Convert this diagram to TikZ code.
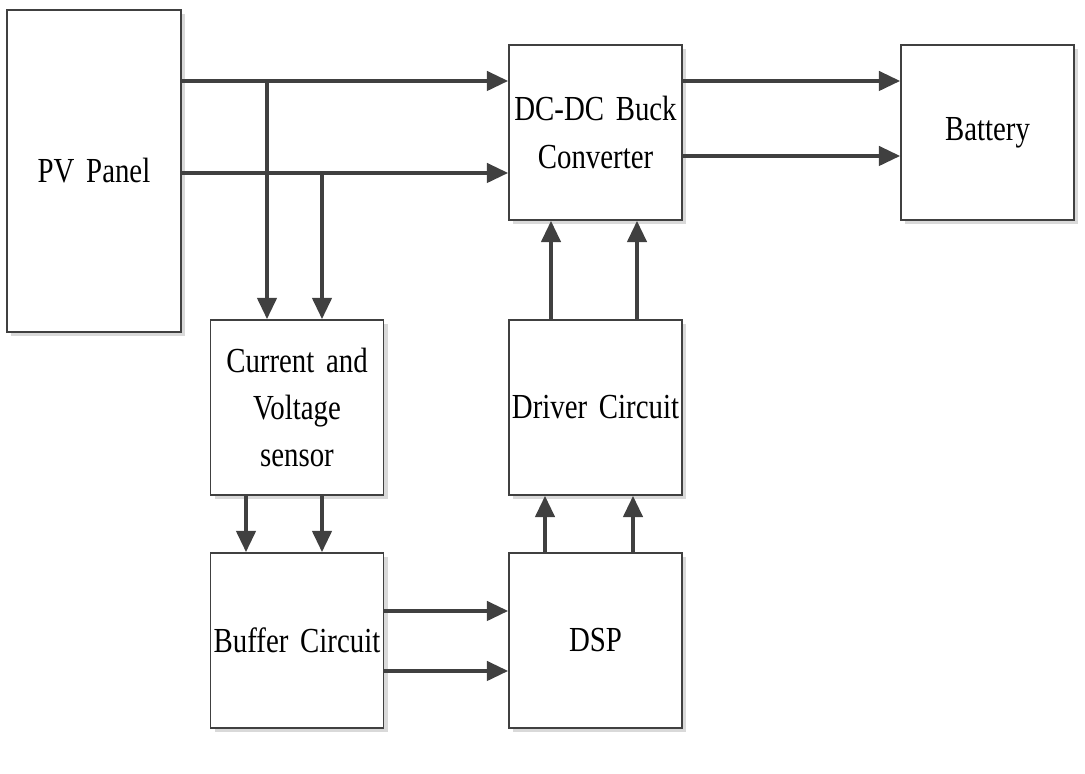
\documentclass[tikz,border=0pt]{standalone}
\usepackage{fontspec}
\setmainfont{Liberation Serif}[FakeStretch=0.82]
\usetikzlibrary{arrows.meta,shadows}
\begin{document}
\begin{tikzpicture}[x=0.01cm,y=0.01cm,
  blk/.style={draw=black!75,line width=0.5pt,fill=white,
    drop shadow={shadow xshift=1.2pt,shadow yshift=-1.2pt,fill=black!15,opacity=1},
    inner sep=0pt,align=center,text width=1.73cm,minimum width=1.73cm,minimum height=1.75cm,
    font=\fontsize{10}{13.5}\selectfont},
  ar/.style={draw=black!75,line width=0.9pt,-{Triangle[length=6pt,width=5.5pt]}}]
\useasboundingbox (0,0) rectangle (1085,774);
\node[blk,minimum width=1.74cm,minimum height=3.22cm] (pv) at (94,603) {PV Panel};
\node[blk] (dc) at (595.5,641.5) {DC-DC Buck\\Converter};
\node[blk] (bat) at (987.5,641.5) {Battery};
\node[blk] (sen) at (297,366.5) {Current and\\Voltage\\sensor};
\node[blk] (drv) at (595.5,366.5) {Driver Circuit};
\node[blk] (buf) at (297,133.5) {Buffer Circuit};
\node[blk] (dsp) at (595.5,133.5) {DSP};
% PV to converter
\draw[ar] (pv.east |- 0,693) -- (dc.west |- 0,693);
\draw[ar] (pv.east |- 0,601) -- (dc.west |- 0,601);
% taps to sensor
\draw[ar] (267,693) -- (sen.north -| 267,0);
\draw[ar] (322,601) -- (sen.north -| 322,0);
% converter to battery
\draw[ar] (dc.east |- 0,693) -- (bat.west |- 0,693);
\draw[ar] (dc.east |- 0,618) -- (bat.west |- 0,618);
% driver to converter
\draw[ar] (drv.north -| 551,0) -- (dc.south -| 551,0);
\draw[ar] (drv.north -| 637,0) -- (dc.south -| 637,0);
% sensor to buffer
\draw[ar] (sen.south -| 246,0) -- (buf.north -| 246,0);
\draw[ar] (sen.south -| 322,0) -- (buf.north -| 322,0);
% dsp to driver
\draw[ar] (dsp.north -| 545,0) -- (drv.south -| 545,0);
\draw[ar] (dsp.north -| 633,0) -- (drv.south -| 633,0);
% buffer to dsp
\draw[ar] (buf.east |- 0,163) -- (dsp.west |- 0,163);
\draw[ar] (buf.east |- 0,103) -- (dsp.west |- 0,103);
\end{tikzpicture}
\end{document}
